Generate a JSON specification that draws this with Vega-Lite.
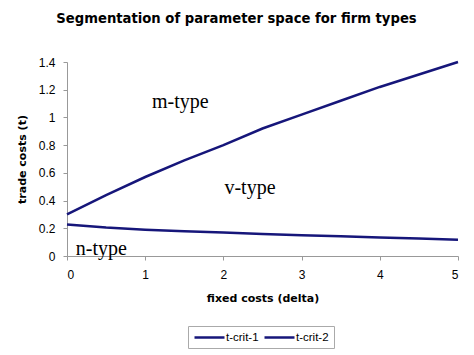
{
  "$schema": "https://vega.github.io/schema/vega-lite/v6.json",
  "autosize": "none",
  "width": 391,
  "height": 194,
  "padding": {"left": 67, "top": 62, "right": 16, "bottom": 99},
  "background": "white",
  "title": {
    "text": "Segmentation of parameter space for firm types",
    "font": "DejaVu Sans",
    "fontSize": 13.2,
    "fontWeight": "bold",
    "color": "#000000",
    "anchor": "middle",
    "dx": -26,
    "offset": 30
  },
  "config": {
    "view": {"stroke": null},
    "axis": {
      "labelFont": "Liberation Sans",
      "labelFontSize": 12,
      "labelColor": "#000000",
      "labelOverlap": false,
      "titleFont": "DejaVu Sans",
      "titleFontSize": 11,
      "titleFontWeight": "bold",
      "titleColor": "#000000",
      "domainColor": "#999999",
      "tickColor": "#999999",
      "grid": false
    }
  },
  "datasets": {
    "curves": [
      {"delta": 0, "t": 0.30, "series": "t-crit-1"},
      {"delta": 0.5, "t": 0.44, "series": "t-crit-1"},
      {"delta": 1, "t": 0.57, "series": "t-crit-1"},
      {"delta": 1.5, "t": 0.69, "series": "t-crit-1"},
      {"delta": 2, "t": 0.80, "series": "t-crit-1"},
      {"delta": 2.5, "t": 0.92, "series": "t-crit-1"},
      {"delta": 3, "t": 1.02, "series": "t-crit-1"},
      {"delta": 3.5, "t": 1.12, "series": "t-crit-1"},
      {"delta": 4, "t": 1.22, "series": "t-crit-1"},
      {"delta": 4.5, "t": 1.31, "series": "t-crit-1"},
      {"delta": 5, "t": 1.40, "series": "t-crit-1"},
      {"delta": 0, "t": 0.228, "series": "t-crit-2"},
      {"delta": 0.5, "t": 0.205, "series": "t-crit-2"},
      {"delta": 1, "t": 0.190, "series": "t-crit-2"},
      {"delta": 1.5, "t": 0.179, "series": "t-crit-2"},
      {"delta": 2, "t": 0.169, "series": "t-crit-2"},
      {"delta": 2.5, "t": 0.159, "series": "t-crit-2"},
      {"delta": 3, "t": 0.150, "series": "t-crit-2"},
      {"delta": 3.5, "t": 0.142, "series": "t-crit-2"},
      {"delta": 4, "t": 0.134, "series": "t-crit-2"},
      {"delta": 4.5, "t": 0.126, "series": "t-crit-2"},
      {"delta": 5, "t": 0.118, "series": "t-crit-2"}
    ],
    "labels": [
      {"delta": 1.45, "t": 1.11, "label": "m-type"},
      {"delta": 2.34, "t": 0.49, "label": "v-type"},
      {"delta": 0.44, "t": 0.05, "label": "n-type"}
    ]
  },
  "encoding": {
    "x": {
      "field": "delta", "type": "quantitative",
      "scale": {"domain": [0, 5], "nice": false},
      "axis": {"title": "fixed costs (delta)", "values": [0,1,2,3,4,5], "format": "d", "tickSize": 4, "labelPadding": 9, "titlePadding": 12}
    },
    "y": {
      "field": "t", "type": "quantitative",
      "scale": {"domain": [0, 1.4], "nice": false},
      "axis": {"title": "trade costs (t)", "values": [0,0.2,0.4,0.6,0.8,1,1.2,1.4], "format": "~g", "tickSize": 4, "labelPadding": 8, "titlePadding": 11}
    }
  },
  "layer": [
    {
      "data": {"name": "curves"},
      "mark": {"type": "line", "strokeWidth": 2.5},
      "encoding": {
        "color": {
          "field": "series", "type": "nominal",
          "scale": {"domain": ["t-crit-1", "t-crit-2"], "range": ["#16167a", "#16167a"]},
          "legend": {
            "title": null,
            "orient": "none",
            "legendX": 121,
            "legendY": 264,
            "direction": "horizontal",
            "symbolType": "M-1,0H5",
            "symbolStrokeWidth": 2.5,
            "symbolSize": 100,
            "labelFont": "Liberation Sans",
            "labelFontSize": 11.5,
            "labelColor": "#000000",
            "strokeColor": "#aaaaaa",
            "padding": 5,
            "columnPadding": 0,
            "labelOffset": 20
          }
        }
      }
    },
    {
      "data": {"name": "labels"},
      "mark": {"type": "text", "font": "Liberation Serif", "fontSize": 20, "color": "#000000"},
      "encoding": {
        "text": {"field": "label"}
      }
    }
  ]
}
